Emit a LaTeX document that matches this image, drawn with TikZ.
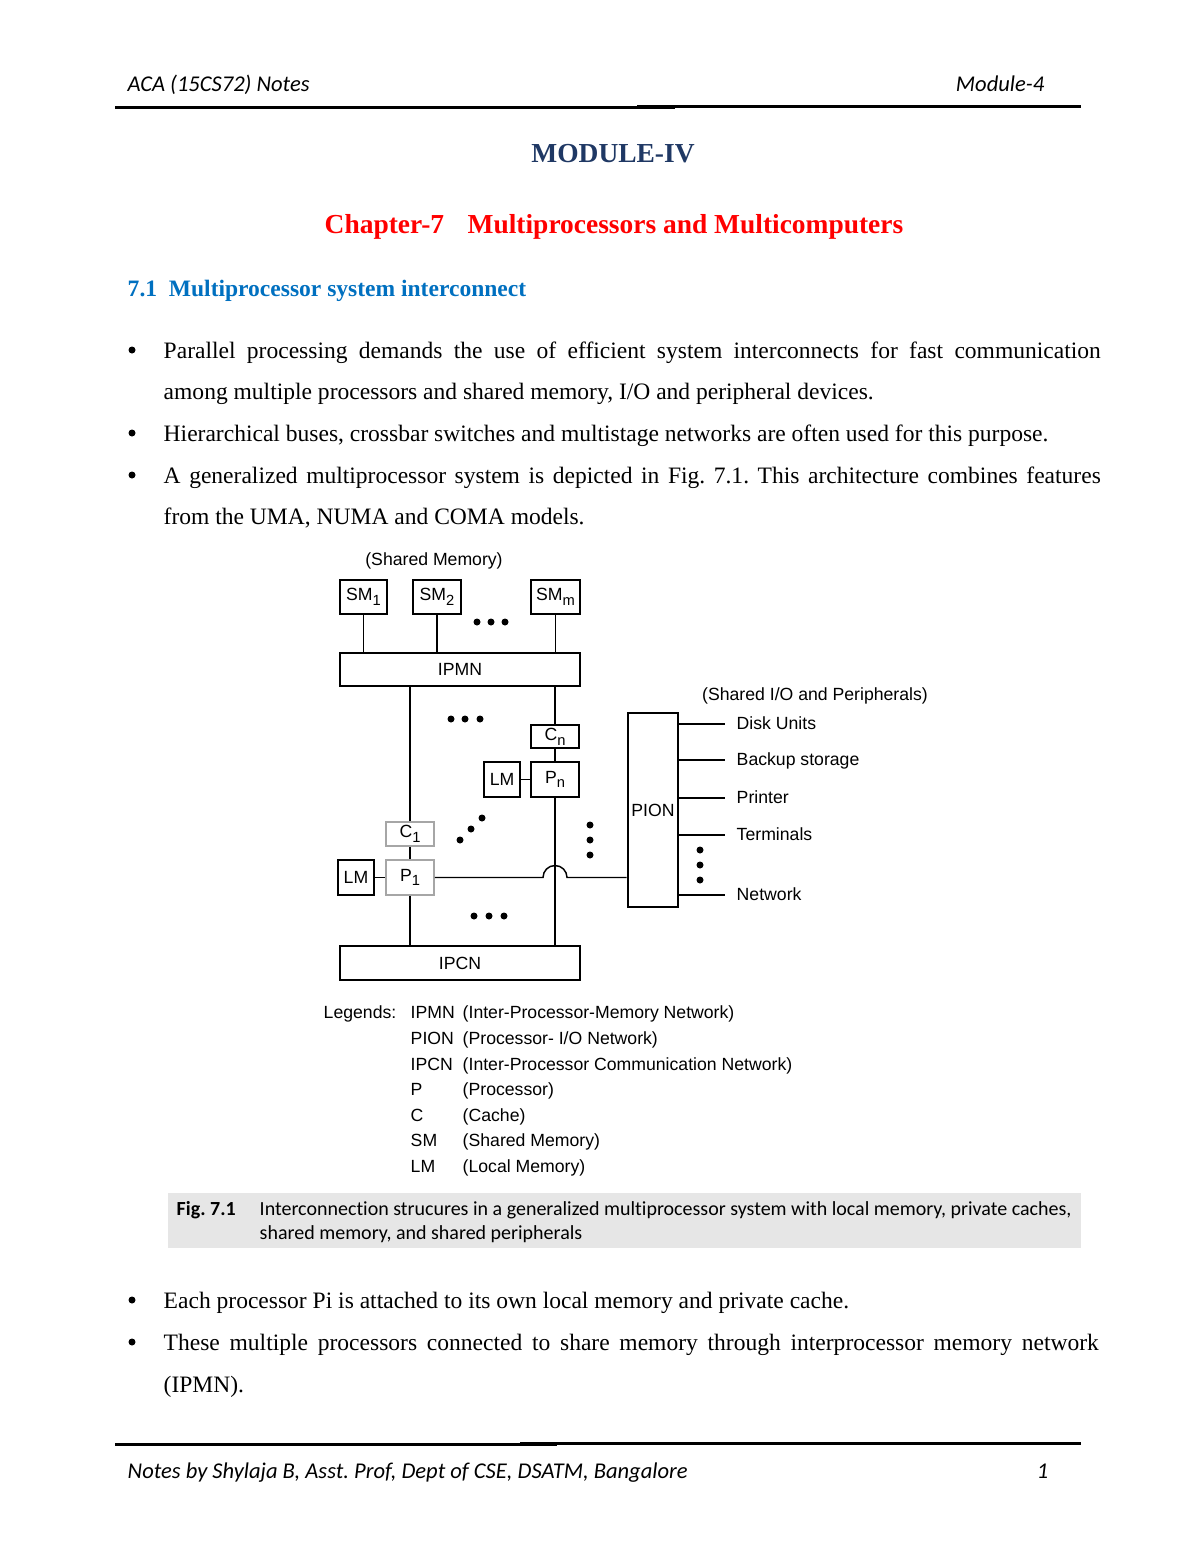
\documentclass[tikz,border=0pt]{standalone}
\usepackage{fontspec}
\setmainfont{Liberation Serif}
\newfontfamily\diagfont{Liberation Sans}
\newfontfamily\capfont[Ligatures=NoCommon]{Carlito}
\usetikzlibrary{calc}
\definecolor{navy}{HTML}{1F3864}
\definecolor{chapred}{HTML}{FF0000}
\definecolor{secblue}{HTML}{0070C0}
\definecolor{capgray}{HTML}{E6E6E6}
\newcommand\sbx[1]{\raisebox{-0.5ex}{\fontsize{7.5}{8}\selectfont #1}}
\begin{document}
\frenchspacing
\begin{tikzpicture}[x=0.51pt,y=-0.51pt,line width=0.75pt,
  body/.style={font=\fontsize{12}{14}\selectfont,inner sep=0,anchor=base west},
  hdr/.style={font=\capfont\itshape\fontsize{11.5}{14}\selectfont,inner sep=0},
  box/.style={draw,line width=0.9pt,inner sep=0,font=\diagfont\fontsize{9}{10}\selectfont},
  lbl/.style={inner sep=0,font=\diagfont\fontsize{9}{10}\selectfont,text height=1.6ex,text depth=.3ex},
  leg/.style={inner sep=0,anchor=base west,font=\diagfont\fontsize{9}{10}\selectfont},
  captext/.style={inner sep=0,anchor=base west,font=\capfont\fontsize{10.2}{11}\selectfont}]
\useasboundingbox (0,0) rectangle (1200,1553);
\fill[white] (0,0) rectangle (1200,1553);
% header
\node[hdr,anchor=base west] (hl) at (127,92) {ACA (15CS72) Notes};
\node[hdr,anchor=base east] (hr) at (1045,92) {Module-4};
\draw[line width=1.4pt] (115,107.5) -- (675,107.5);
\draw[line width=1.4pt] (637,106.5) -- (1081,106.5);
% titles
\node[inner sep=0,anchor=base,font=\bfseries\fontsize{14}{16}\selectfont,text=navy] (title) at (613,163) {MODULE-IV};
\node[inner sep=0,anchor=base,font=\bfseries\fontsize{14}{16}\selectfont,text=chapred] (chap) at (614,234) {Chapter-7\hspace{12pt}Multiprocessors and Multicomputers};
\node[inner sep=0,anchor=base west,font=\bfseries\fontsize{12}{14}\selectfont,text=secblue] (sec) at (127,297) {7.1\hspace{6pt}Multiprocessor system interconnect};
% bullets top
\foreach \yy in {350,433,475} {\fill (132,\yy) circle (3.5);}
\node[body] (t1) at (163,358) {\makebox[477.9pt][s]{Parallel processing demands the use of efficient system interconnects for fast communication}};
\node[body] (t2) at (163,399) {among multiple processors and shared memory, I/O and peripheral devices.};
\node[body] (t3) at (163,441) {Hierarchical buses, crossbar switches and multistage networks are often used for this purpose.};
\node[body] (t4) at (163,483) {\makebox[477.9pt][s]{A generalized multiprocessor system is depicted in Fig. 7.1. This architecture combines features}};
\node[body] (t5) at (163,524) {from the UMA, NUMA and COMA models.};
% diagram
\node[lbl] (shm) at (434,560) {(Shared Memory)};
\node[box,minimum width={47*0.51pt},minimum height={34*0.51pt}] (sm1) at (363.5,597) {SM\sbx{1}};
\node[box,minimum width={48*0.51pt},minimum height={34*0.51pt}] (sm2) at (437,597) {SM\sbx{2}};
\node[box,minimum width={49*0.51pt},minimum height={34*0.51pt}] (smm) at (555.5,597) {SM\sbx{m}};
\node[box,minimum width={240*0.51pt},minimum height={33*0.51pt}] (ipmn) at (460,669.5) {IPMN};
\node[box,minimum width={48*0.51pt},minimum height={23*0.51pt}] (cn) at (555,736.5) {C\sbx{n}};
\node[box,minimum width={48*0.51pt},minimum height={35*0.51pt}] (pn) at (555,779.5) {P\sbx{n}};
\node[box,minimum width={36*0.51pt},minimum height={35*0.51pt}] (lmn) at (502,779.5) {LM};
\node[box,draw=gray!70,minimum width={48*0.51pt},minimum height={24*0.51pt}] (c1) at (410,834) {C\sbx{1}};
\node[box,draw=gray!70,minimum width={48*0.51pt},minimum height={35*0.51pt}] (p1) at (410,877.5) {P\sbx{1}};
\node[box,minimum width={36*0.51pt},minimum height={35*0.51pt}] (lm1) at (356,877.5) {LM};
\node[box,minimum width={240*0.51pt},minimum height={34*0.51pt}] (ipcn) at (460,963) {IPCN};
\node[box,line width=1.5pt,minimum width={50*0.51pt},minimum height={194*0.51pt}] (pion) at (653,810) {PION};
\node[lbl] (shio) at (815,695) {(Shared I/O and Peripherals)};
% connectors
\draw (sm1.south) -- (sm1.south |- ipmn.north);
\draw[line width=1.2pt] (sm2.south) -- (sm2.south |- ipmn.north);
\draw (smm.south) -- (smm.south |- ipmn.north);
\draw (c1.north |- ipmn.south) -- (c1.north);
\draw (cn.north |- ipmn.south) -- (cn.north);
\draw (cn.south) -- (pn.north);
\draw (lmn.east) -- (pn.west);
\draw ($(pn.east)+(0,6)$) -- ($(pn.east)+(0,6)$ -| pion.west);
\draw (pn.south) -- (pn.south |- ipcn.north);
\draw (c1.south) -- (p1.north);
\draw (lm1.east) -- (p1.west);
\draw (p1.south) -- (p1.south |- ipcn.north);
\draw (p1.east) -- ($(pn.south |- p1.east)+(-12,0)$) arc (180:360:12) -- (p1.east -| pion.west);
% peripherals
\foreach \nm/\yy/\tx in {disk/724/Disk Units,backup/760/Backup storage,printer/798/Printer,term/835/Terminals,net/895/Network}{
  \node[lbl,anchor=west] (\nm) at (736,\yy) {\tx};
}
\foreach \nm in {disk,printer,term,net}{\draw (pion.east |- \nm.west) -- ($(\nm.west)+(-11,0)$);}
\draw[line width=1.3pt] (pion.east |- backup.west) -- ($(backup.west)+(-11,0)$);
% dots
\foreach \xx in {477,491,505} {\fill (\xx,622) circle (3.5);}
\foreach \xx in {451,465,480} {\fill (\xx,719) circle (3.5);}
\foreach \xx in {474,489,504} {\fill (\xx,916) circle (3.5);}
\foreach \pp in {(460,840),(471,829),(482,818)} {\fill \pp circle (3.5);}
\foreach \yy in {825,840,855} {\fill (590,\yy) circle (3.5);}
\foreach \yy in {850,865,880} {\fill (700,\yy) circle (3.5);}
% legends
\node[leg] (legh) at (323,1018) {Legends:};
\foreach \yy/\ab/\ds [count=\i] in {1018/IPMN/{(Inter-Processor-Memory Network)},1044/PION/{(Processor- I/O Network)},1070/IPCN/{(Inter-Processor Communication Network)},1095/P/{(Processor)},1121/C/{(Cache)},1146/SM/{(Shared Memory)},1172/LM/{(Local Memory)}}{
  \node[leg] (la\i) at (410,\yy) {\ab};
  \node[leg] (ld\i) at (462,\yy) {\ds};
}
% caption
\fill[capgray] (168,1193) rectangle (1081,1248);
\node[captext,font=\capfont\bfseries\fontsize{10.2}{11}\selectfont] (fig) at (176,1215) {Fig. 7.1};
\node[captext] (cap1) at (259,1215) {Interconnection strucures in a generalized multiprocessor system with local memory, private caches,};
\node[captext] (cap2) at (259,1239) {shared memory, and shared peripherals};
% bullets bottom
\foreach \yy in {1300,1342} {\fill (132,\yy) circle (3.5);}
\node[body] (b1) at (163,1308) {Each processor Pi is attached to its own local memory and private cache.};
\node[body] (b2) at (163,1350) {\makebox[476.9pt][s]{These multiple processors connected to share memory through interprocessor memory network}};
\node[body] (b3) at (163,1392) {(IPMN).};
% footer
\draw[line width=1.4pt] (115,1444.5) -- (557,1444.5);
\draw[line width=1.4pt] (520,1443.5) -- (1081,1443.5);
\node[hdr,anchor=base west] (fl) at (127,1478) {Notes by Shylaja B, Asst. Prof, Dept of CSE, DSATM, Bangalore};
\node[hdr,anchor=base west] (fr) at (1036,1478) {1};
\end{tikzpicture}
\end{document}
